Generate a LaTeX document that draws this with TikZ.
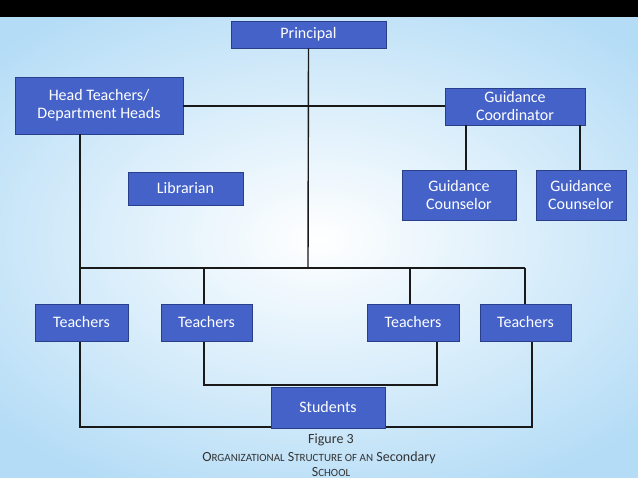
\documentclass[tikz,border=0pt]{standalone}
\usepackage{fontspec}
\setmainfont{Carlito}
\definecolor{boxblue}{HTML}{4462C8}
\definecolor{edgeblue}{HTML}{2A3F8A}
\definecolor{bgblue}{HTML}{B4DCF6}
\newcommand{\fsc}[1]{{\fontsize{11}{12}\selectfont #1}}
\tikzset{
  box/.style={draw=edgeblue, line width=0.8pt, fill=boxblue, text=white, font=\fontsize{16}{18}\selectfont, align=center, inner sep=0pt},
  conn/.style={draw=black!90, line width=1.4pt},
  captxt/.style={font=\fontsize{14}{15}\selectfont, text=black!80, inner sep=0pt},
}
\begin{document}
\begin{tikzpicture}[x=1pt,y=-1pt]
\useasboundingbox (0,0) rectangle (638,478);
\shade[inner color=white, outer color=bgblue] (-120,-40) rectangle (758,518);
\fill[black] (0,0) rectangle (638,17);
\node[box, minimum width=155, minimum height=27] (pr) at (308.5,34.5) {Principal};
\node[box, minimum width=168, minimum height=57] (ht) at (99,105.5) {Head Teachers/\\Department Heads};
\node[box, minimum width=140, minimum height=37] (gc) at (515,106.5) {Guidance\\Coordinator};
\node[box, minimum width=115, minimum height=33] (li) at (185.5,188.5) {Librarian};
\node[box, minimum width=114, minimum height=50] (c1) at (459,195) {Guidance\\Counselor};
\node[box, minimum width=90, minimum height=50] (c2) at (581,195) {Guidance\\Counselor};
\coordinate (hub) at (308,268);
\coordinate (bl) at (80,427);
\coordinate (br) at (532,427);
\draw[conn] (pr.south) -- (hub);
\draw[conn] (ht.east |- 0,106) -- (gc.west |- 0,106);
\draw[conn] (466,125) -- (466,170);
\draw[conn] (580,125) -- (580,170);
\draw[conn] (80,134) -- (bl) -- (br) -- (532,341);
\draw[conn] (80,268) -- (525,268);
\draw[conn] (204,268) -- (204,304);
\draw[conn] (410,268) -- (410,304);
\draw[conn] (525,268) -- (525,304);
\draw[conn] (204,341) -- (204,385) -- (437,385) -- (437,341);
\node[box, minimum width=93, minimum height=37] (t1) at (81.5,322.5) {Teachers};
\node[box, minimum width=91, minimum height=37] (t2) at (206.5,322.5) {Teachers};
\node[box, minimum width=92, minimum height=37] (t3) at (413,322.5) {Teachers};
\node[box, minimum width=91, minimum height=37] (t4) at (525.5,322.5) {Teachers};
\node[box, minimum width=114, minimum height=41] (st) at (328,407.5) {Students};
\node[captxt] (cap1) at (331,440) {Figure 3};
\node[captxt] (cap2) at (319,458) {O\fsc{RGANIZATIONAL} S\fsc{TRUCTURE OF AN} Secondary};
\node[captxt] (cap3) at (331,472) {S\fsc{CHOOL}};
\end{tikzpicture}
\end{document}
